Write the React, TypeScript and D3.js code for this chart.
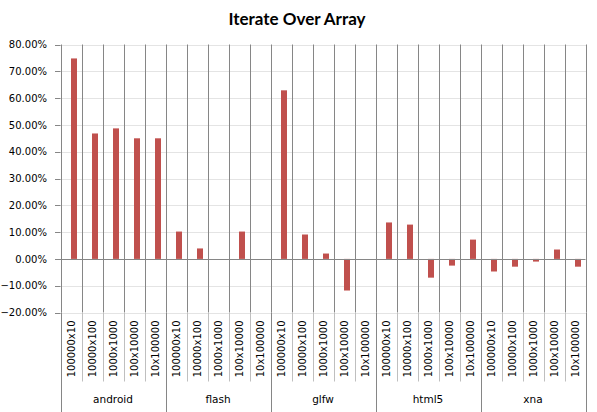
import { useEffect, useRef } from 'react';
import * as d3 from 'd3';

const groups = ['android', 'flash', 'glfw', 'html5', 'xna'];
const sizes = ['100000x10', '10000x100', '1000x1000', '100x10000', '10x100000'];

// values in percent, one row per group, in the order of `sizes`
const android = [74.8, 46.8, 48.7, 45.0, 45.0];
const flash = [10.2, 3.9, 0, 10.2, 0];
const glfw = [62.9, 9.1, 2.0, -11.8, 0];
const html5 = [13.6, 12.8, -7.0, -2.5, 7.2];
const xna = [-4.7, -2.9, -1.0, 3.5, -2.9];

const yTicks = [-20, -10, 0, 10, 20, 30, 40, 50, 60, 70, 80];

const W = 597;
const H = 412;
const barColor = '#C0504D';
const axisColor = '#868686';
const labelFont = '"DejaVu Sans", Verdana, sans-serif';

const App = () => {
  const svgRef = useRef<SVGSVGElement>(null);

  useEffect(() => {
    if (!svgRef.current) return;
    const svg = d3.select(svgRef.current);
    svg.selectAll('*').remove();

    const rows = [android, flash, glfw, html5, xna];
    const data = groups.flatMap((g, gi) =>
      sizes.map((s, si) => ({ key: `${g}|${s}`, group: g, size: s, value: rows[gi][si] }))
    );

    const left = 60.5, right = 585.5, top = 44.5, bottom = 312.5;

    const x = d3.scaleBand<string>()
      .domain(data.map(d => d.key))
      .range([left, right])
      .padding(0);
    const bw = x.bandwidth();

    const y = d3.scaleLinear().domain([-20, 80]).range([bottom, top]);

    // Title
    svg.append('text')
      .attr('x', 297)
      .attr('y', 25)
      .attr('text-anchor', 'middle')
      .style('font-family', 'Lato, "Open Sans", sans-serif')
      .style('font-weight', 700)
      .style('font-size', '17px')
      .attr('fill', '#000')
      .text('Iterate Over Array');

    // Dotted horizontal gridlines
    svg.append('g')
      .selectAll('line')
      .data(yTicks.filter(t => t !== 0))
      .enter().append('line')
      .attr('x1', left)
      .attr('x2', right)
      .attr('y1', d => Math.round(y(d)) + 0.5)
      .attr('y2', d => Math.round(y(d)) + 0.5)
      .attr('stroke', '#C8C8C8')
      .attr('stroke-dasharray', '1,1');

    // Vertical category lines
    const boundaries = d3.range(data.length + 1);
    const bx = (i: number) => Math.round(left + i * bw) + 0.5;

    svg.append('g')
      .selectAll('line')
      .data(boundaries)
      .enter().append('line')
      .attr('x1', bx)
      .attr('x2', bx)
      .attr('y1', top)
      .attr('y2', bottom)
      .attr('stroke', axisColor);

    // tick lines in the label area
    svg.append('g')
      .selectAll('line')
      .data(boundaries)
      .enter().append('line')
      .attr('x1', bx)
      .attr('x2', bx)
      .attr('y1', bottom)
      .attr('y2', d => (d % sizes.length === 0 ? H : 381.5))
      .attr('stroke', d => (d % sizes.length === 0 ? axisColor : '#BFBFBF'));

    // Bars
    const barW = bw * 6 / 21;
    svg.append('g')
      .selectAll('rect')
      .data(data.filter(d => d.value !== 0))
      .enter().append('rect')
      .attr('x', d => (x(d.key) || 0) + bw / 2)
      .attr('y', d => y(Math.max(0, d.value)))
      .attr('width', barW)
      .attr('height', d => Math.abs(y(d.value) - y(0)))
      .attr('fill', barColor);

    // Zero line
    svg.append('line')
      .attr('x1', 55)
      .attr('x2', right)
      .attr('y1', Math.round(y(0)) + 0.5)
      .attr('y2', Math.round(y(0)) + 0.5)
      .attr('stroke', axisColor);

    // Y axis ticks and labels
    const yAxis = svg.append('g');
    yAxis.selectAll('line')
      .data(yTicks)
      .enter().append('line')
      .attr('x1', 55)
      .attr('x2', left)
      .attr('y1', d => Math.round(y(d)) + 0.5)
      .attr('y2', d => Math.round(y(d)) + 0.5)
      .attr('stroke', axisColor);

    yAxis.selectAll('text')
      .data(yTicks)
      .enter().append('text')
      .attr('x', 47)
      .attr('y', d => y(d))
      .attr('dy', '0.36em')
      .attr('text-anchor', 'end')
      .style('font-family', labelFont)
      .style('font-size', '10px')
      .attr('fill', '#000')
      .text(d => d3.format('.2f')(d) + '%');

    // Category labels (rotated)
    svg.append('g')
      .selectAll('text')
      .data(data)
      .enter().append('text')
      .attr('transform', d => `translate(${(x(d.key) || 0) + bw / 2},320.5) rotate(-90)`)
      .attr('text-anchor', 'end')
      .attr('dy', '0.36em')
      .style('font-family', labelFont)
      .style('font-size', '10px')
      .attr('fill', '#000')
      .text(d => d.size);

    // Group labels
    svg.append('g')
      .selectAll('text')
      .data(groups)
      .enter().append('text')
      .attr('x', (g, i) => left + (i * sizes.length + sizes.length / 2) * bw)
      .attr('y', 403)
      .attr('text-anchor', 'middle')
      .style('font-family', labelFont)
      .style('font-size', '10.5px')
      .attr('fill', '#000')
      .text(g => g);
  }, []);

  return (
    <div style={{ position: 'absolute', left: 0, top: 0 }}>
      <svg ref={svgRef} width={W} height={H} style={{ display: 'block', background: '#fff' }} />
    </div>
  );
};

export default App;
